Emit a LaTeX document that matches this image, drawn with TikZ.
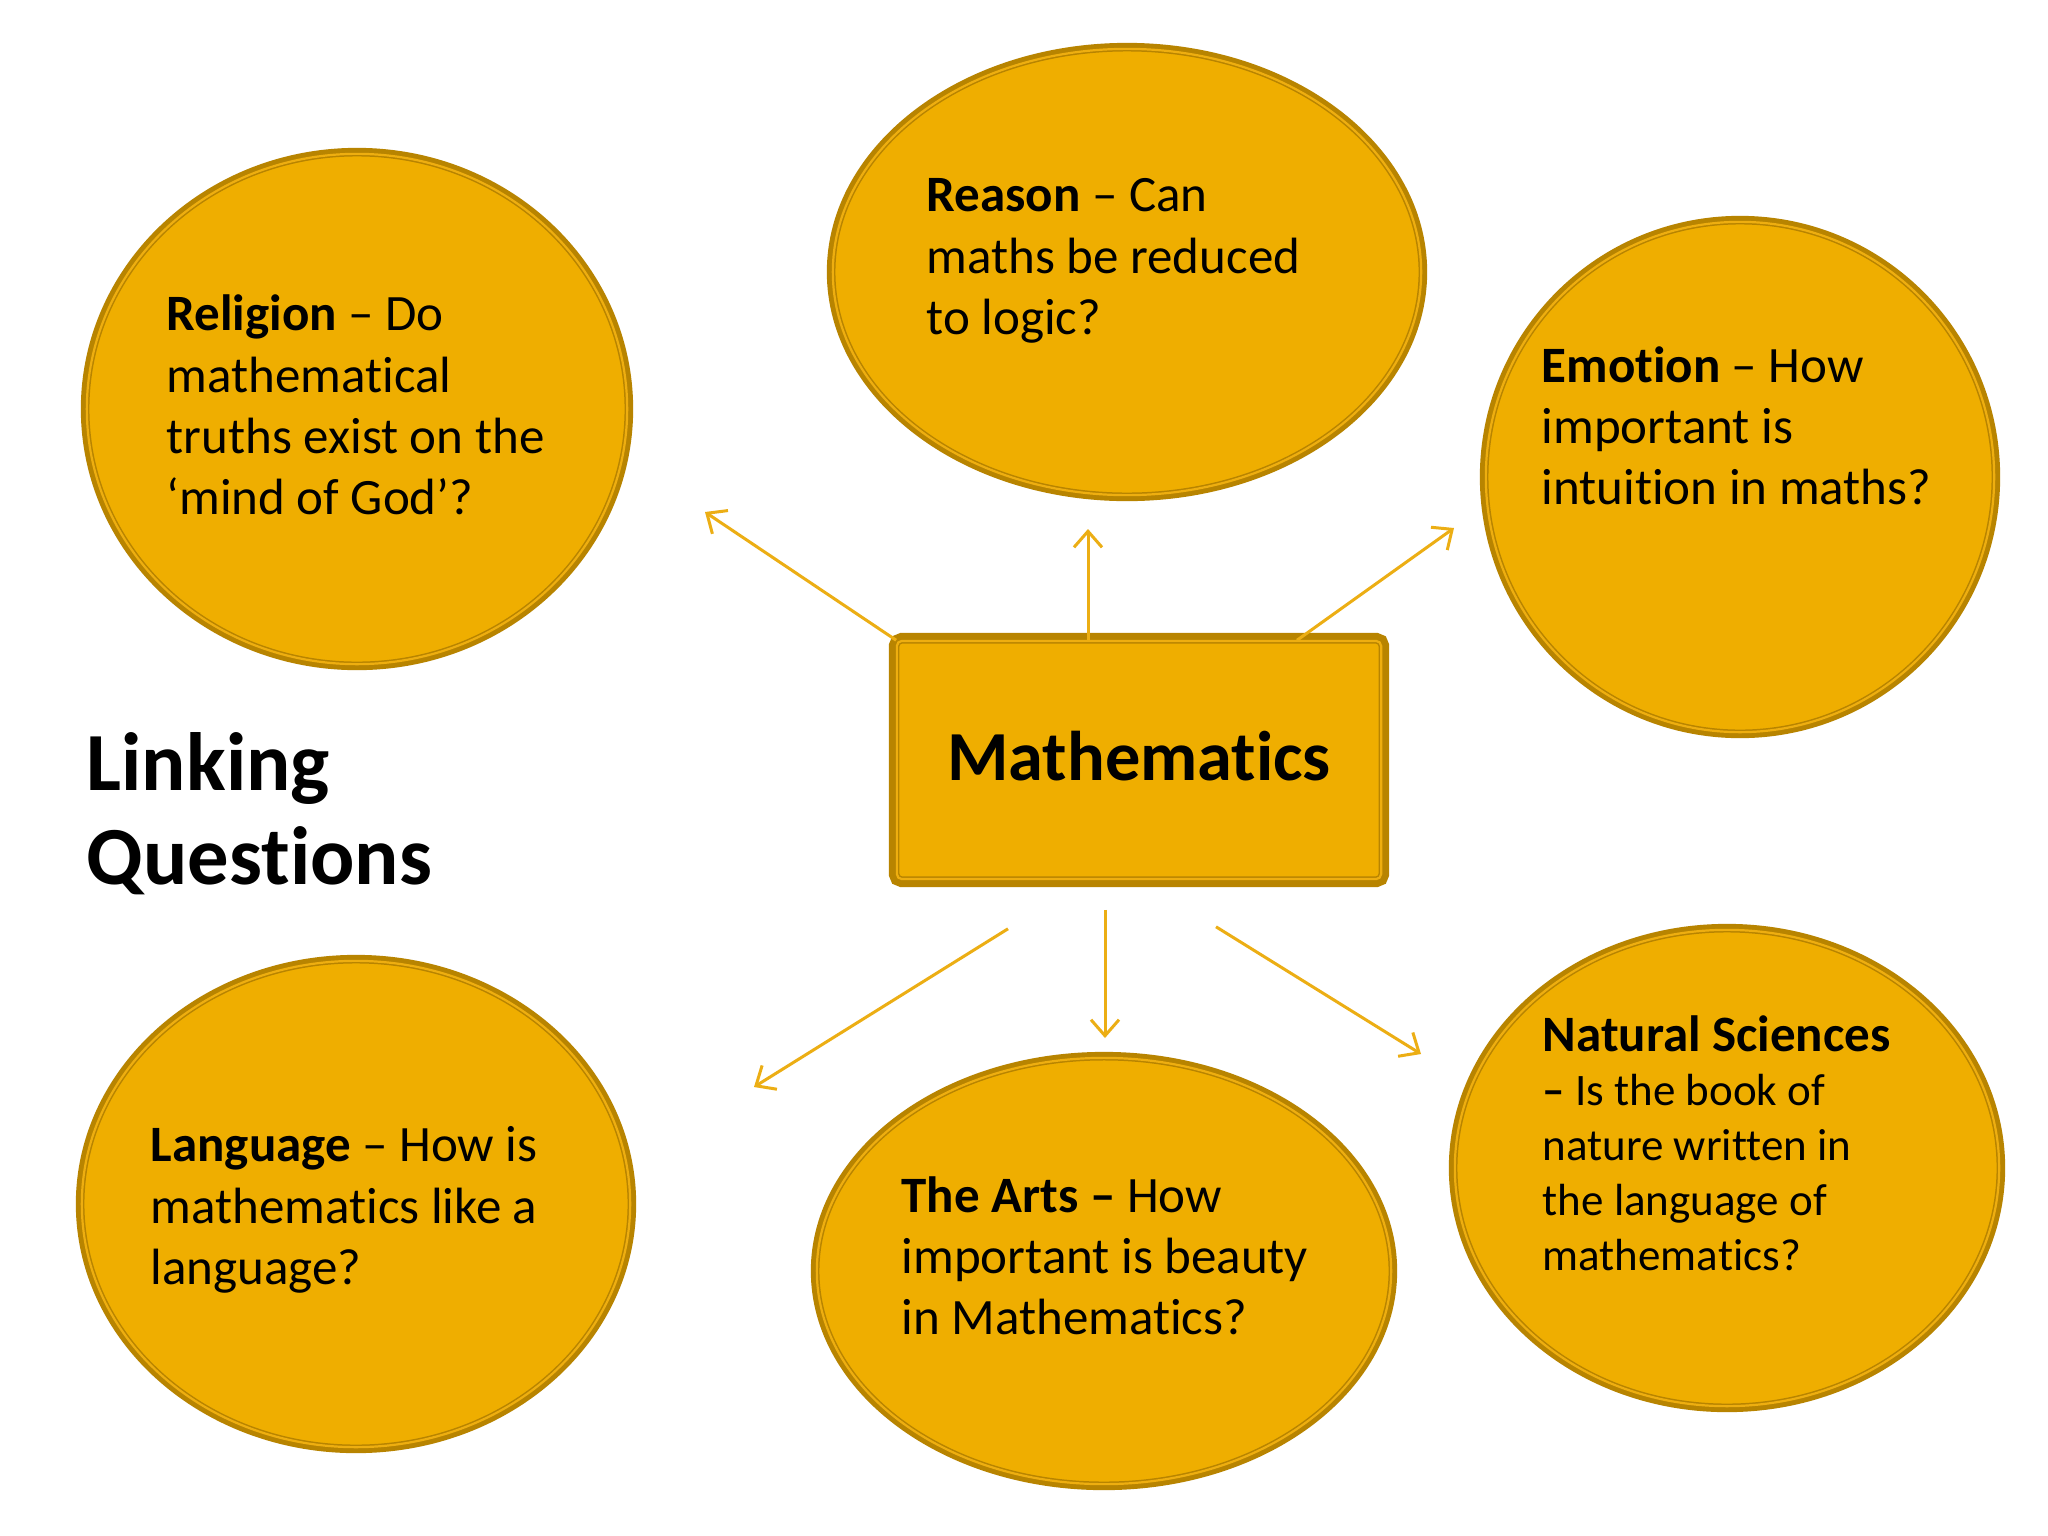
\documentclass[tikz,border=0pt]{standalone}
\usepackage{fontspec}
\setmainfont{Carlito}[Ligatures={NoCommon}]
\usetikzlibrary{arrows.meta}
\usetikzlibrary{shapes.geometric}
\usetikzlibrary{calc}

\definecolor{qgold}{RGB}{239,174,0}
\definecolor{qedge}{RGB}{184,132,0}
\definecolor{qlight}{RGB}{238,174,16}
\definecolor{qarrow}{RGB}{236,174,20}

\newcommand{\smallq}{\fontsize{12.8}{15.6}\selectfont}

\tikzset{
	qshape/.style={fill=qgold, inner sep=0pt,
		postaction={draw=qedge, line width=0.15mm, double=qlight, double distance=0.22mm}},
	bubble/.style={qshape, ellipse, preaction={draw=qedge, line width=1.2mm}},
	box/.style={qshape, rectangle, rounded corners=0.5mm, preaction={draw=qedge, line width=1.6mm},
		minimum width=4.84cm, minimum height=2.38cm, font=\bfseries\fontsize{20}{24}\selectfont},
	qtext/.style={anchor=west, align=left, inner sep=0pt, font=\fontsize{14.5}{17.4}\selectfont},
	heading/.style={anchor=west, align=left, inner sep=0pt, font=\bfseries\fontsize{23.5}{26.7}\selectfont},
	link/.style={draw=qarrow, line width=0.3mm, -{Straight Barb[length=1.6mm, width=2.8mm]}}
}

\begin{document}
\begin{tikzpicture}[x=0.01cm, y=-0.01cm]
	\fill [white] (0,0) rectangle (2048,1536);

	%Centre box
	\node [box] (math) at (1139,760) {\raisebox{0.8mm}{Mathematics}};

	%Ellipses
	\node [bubble, minimum width=5.40cm, minimum height=5.10cm] (religion) at (357,409) {};
	\node [bubble, minimum width=5.88cm, minimum height=4.46cm] (reason) at (1127,272) {};
	\node [bubble, minimum width=5.08cm, minimum height=5.10cm] (emotion) at (1740,477) {};
	\node [bubble, minimum width=5.48cm, minimum height=4.86cm] (language) at (356,1204) {};
	\node [bubble, minimum width=5.74cm, minimum height=4.26cm] (arts) at (1104,1271) {};
	\node [bubble, minimum width=5.44cm, minimum height=4.76cm] (natural) at (1727,1168) {};

	%Questions
	\node [qtext] (religionQ) at (166,405) {\textbf{Religion} – Do\\mathematical\\truths exist on the\\‘mind of God’?};
	\node [qtext] (reasonQ) at (926,261) {\textbf{Reason} – Can\\maths be reduced\\to logic?};
	\node [qtext] (emotionQ) at (1541,426) {\textbf{Emotion} – How\\important is\\intuition in maths?};
	\node [qtext] (languageQ) at (150,1210) {\textbf{Language} – How is\\mathematics like a\\language?};
	\node [qtext] (artsQ) at (901,1256) {\textbf{The Arts –} How\\important is beauty\\in Mathematics?};
	\node [qtext, font=\smallq] (naturalQ) at (1542,1143) {{\fontsize{14.5}{17.4}\selectfont\textbf{Natural Sciences}}\\\textbf{–} Is the book of\\nature written in\\the language of\\mathematics?};

	%Title
	\node [heading] (title) at (86,814) {Linking\\Questions};

	%Arrow ends
	\coordinate (tReligion) at (705,512);
	\coordinate (tReason) at (1088,529);
	\coordinate (tEmotion) at (1454,528);
	\coordinate (tLanguage) at (754,1087);
	\coordinate (tArts) at (1105,1038);
	\coordinate (tNatural) at (1421,1054);
	\coordinate (sLanguage) at ($(math.south)+(-131,49)$);
	\coordinate (sArts) at ($(math.south)+(-34,30)$);
	\coordinate (sNatural) at ($(math.south)+(77,47)$);

	%Arrows
	\draw [link] (math.north west) -- (tReligion);
	\draw [link] ($(math.north)+(-51,0)$) -- (tReason);
	\draw [link] ($(math.north)+(158,0)$) -- (tEmotion);
	\draw [link] (sLanguage) -- (tLanguage);
	\draw [link] (sArts) -- (tArts);
	\draw [link] (sNatural) -- (tNatural);
\end{tikzpicture}
\end{document}
